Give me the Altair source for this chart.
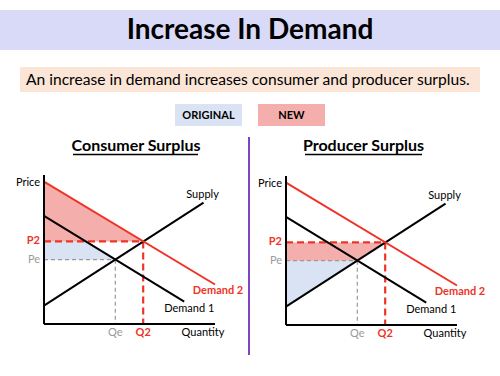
import altair as alt
import pandas as pd

# ---- data (model units) ----
supply_q = [0.0, 9.33]
supply_p = [1.23, 8.15]
d1_q = [0.0, 8.2]
d1_p = [7.25, 1.5]
d2_q = [0.0, 10.0]
d2_p = [9.55, 2.65]
qe, pe = 4.17, 4.32
q2, p2 = 5.8, 5.54
axis_max_q, axis_max_p = 10.0, 10.0

FONT = "Lato"
RED = "#ee3426"
RED_FILL = "#f4afac"
BLUE_FILL = "#dae3f3"
GRAY = "#9a9a9a"

# quantity where D1 crosses P2
q_d1_at_p2 = (d1_p[0] - p2) / (d1_p[0] - d1_p[1]) * (d1_q[1] - d1_q[0])

one = alt.Data(values=[{"a": 1}])

# ---- header ----
hb = alt.Chart(one)
header = alt.layer(
    hb.mark_rect(color="#d9d9f8").encode(x=alt.value(0), x2=alt.value(500), y=alt.value(10), y2=alt.value(50)),
    hb.mark_text(text="Increase In Demand", font=FONT, fontSize=28, fontWeight="bold",
                 align="center", baseline="middle", color="black").encode(x=alt.value(250), y=alt.value(31)),
    hb.mark_rect(color="#fbe5d6").encode(x=alt.value(20), x2=alt.value(480), y=alt.value(67), y2=alt.value(92)),
    hb.mark_text(text="An increase in demand increases consumer and producer surplus.", font=FONT,
                 fontSize=15.6, align="left", baseline="middle", color="black").encode(x=alt.value(26), y=alt.value(80)),
    hb.mark_rect(color=BLUE_FILL).encode(x=alt.value(175), x2=alt.value(242), y=alt.value(104), y2=alt.value(126)),
    hb.mark_text(text="ORIGINAL", font=FONT, fontSize=11, fontWeight="bold", align="center",
                 baseline="middle", color="black").encode(x=alt.value(208.5), y=alt.value(115.5)),
    hb.mark_rect(color=RED_FILL).encode(x=alt.value(258), x2=alt.value(325), y=alt.value(104), y2=alt.value(126)),
    hb.mark_text(text="NEW", font=FONT, fontSize=11, fontWeight="bold", align="center",
                 baseline="middle", color="black").encode(x=alt.value(291.5), y=alt.value(115.5)),
).properties(width=500, height=136)

PW, PH = 250, 240
UX, UY = 17.1, 14.9


def panel(kind):
    if kind == "cs":
        x0, y0, title, tx, ul = 44, 188, "Consumer Surplus", 136, (73, 198)
    else:
        x0, y0, title, tx, ul = 36, 189, "Producer Surplus", 113.5, (55, 172)
    xs = alt.Scale(domain=[-x0 / UX, (PW - x0) / UX], nice=False, zero=False)
    ys = alt.Scale(domain=[-(PH - y0) / UY, y0 / UY], nice=False, zero=False)
    X = lambda f="x": alt.X(f"{f}:Q", scale=xs, axis=None)
    Y = lambda f="y": alt.Y(f"{f}:Q", scale=ys, axis=None)

    layers = []
    if kind == "cs":
        red_area = pd.DataFrame({"x": [d2_q[0], q2], "y": [d2_p[0], p2], "y2": [p2, p2]})
        blue_area = pd.DataFrame({"x": [0, q_d1_at_p2, qe], "y": [p2, p2, pe], "y2": [pe, pe, pe]})
    else:
        red_area = pd.DataFrame({"x": [0, qe, q2], "y": [p2, p2, p2], "y2": [pe, pe, p2]})
        blue_area = pd.DataFrame({"x": [0, qe], "y": [pe, pe], "y2": [supply_p[0], pe]})
    layers.append(alt.Chart(blue_area).mark_area(color=BLUE_FILL, opacity=1).encode(x=X(), y=Y(), y2="y2:Q"))
    layers.append(alt.Chart(red_area).mark_area(color=RED_FILL, opacity=1).encode(x=X(), y=Y(), y2="y2:Q"))

    # dashed guides
    gray_d = pd.DataFrame({"x": [0, qe], "y": [pe, pe], "x2": [qe, qe], "y2": [pe, 0]})
    red_d = pd.DataFrame({"x": [0, q2], "y": [p2, p2], "x2": [q2, q2], "y2": [p2, 0]})
    layers.append(alt.Chart(gray_d).mark_rule(color=GRAY, strokeWidth=1.2, strokeDash=[4, 3]).encode(
        x=X(), y=Y(), x2="x2:Q", y2="y2:Q"))
    layers.append(alt.Chart(red_d).mark_rule(color=RED, strokeWidth=2.2, strokeDash=[7, 4]).encode(
        x=X(), y=Y(), x2="x2:Q", y2="y2:Q"))

    # curves
    curves = pd.DataFrame({
        "x": [supply_q[0], d1_q[0], d2_q[0]], "y": [supply_p[0], d1_p[0], d2_p[0]],
        "x2": [supply_q[1], d1_q[1], d2_q[1]], "y2": [supply_p[1], d1_p[1], d2_p[1]],
        "c": ["black", "black", RED]})
    layers.append(alt.Chart(curves).mark_rule(strokeWidth=2).encode(
        x=X(), y=Y(), x2="x2:Q", y2="y2:Q", color=alt.Color("c:N", scale=None)))

    # axes
    axes = pd.DataFrame({"x": [0, 0], "y": [0, 0], "x2": [0, axis_max_q], "y2": [axis_max_p, 0]})
    layers.append(alt.Chart(axes).mark_rule(color="black", strokeWidth=2).encode(
        x=X(), y=Y(), x2="x2:Q", y2="y2:Q"))

    def txt(df, **kw):
        return alt.Chart(pd.DataFrame(df)).mark_text(font=FONT, **kw).encode(x=X(), y=Y(), text="t:N")

    layers += [
        txt({"x": [0], "y": [axis_max_p], "t": ["Price"]}, fontSize=11, align="right", baseline="middle",
            dx=-4, dy=8, color="black"),
        txt({"x": [0], "y": [p2], "t": ["P2"]}, fontSize=11, fontWeight="bold", align="right",
            baseline="middle", dx=-4, color=RED),
        txt({"x": [0], "y": [pe], "t": ["Pe"]}, fontSize=11, align="right", baseline="middle", dx=-4, color=GRAY),
        txt({"x": [qe], "y": [0], "t": ["Qe"]}, fontSize=11, align="center", baseline="middle", dy=9, color=GRAY),
        txt({"x": [q2], "y": [0], "t": ["Q2"]}, fontSize=11, fontWeight="bold", align="center",
            baseline="middle", dy=9, color=RED),
        txt({"x": [axis_max_q], "y": [0], "t": ["Quantity"]}, fontSize=11, align="center",
            baseline="middle", dx=-12, dy=9, color="black"),
        txt({"x": [supply_q[1]], "y": [supply_p[1]], "t": ["Supply"]}, fontSize=11, align="center",
            baseline="middle", dx=-1, dy=-8, color="black"),
        txt({"x": [d2_q[1]], "y": [d2_p[1]], "t": ["Demand 2"]}, fontSize=11, fontWeight="bold",
            align="center", baseline="middle", dx=3, dy=6, color=RED),
        txt({"x": [d1_q[1]], "y": [d1_p[1]], "t": ["Demand 1"]}, fontSize=11, align="center",
            baseline="middle", dx=5, dy=7, color="black"),
    ]

    pb = alt.Chart(one)
    layers.append(pb.mark_text(text=title, font=FONT, fontSize=16, fontWeight="bold", align="center",
                               baseline="middle", color="black").encode(x=alt.value(tx), y=alt.value(10)))
    layers.append(pb.mark_rule(color="black", strokeWidth=1.3).encode(
        x=alt.value(ul[0]), x2=alt.value(ul[1]), y=alt.value(18.5)))
    if kind == "cs":
        layers.append(pb.mark_rule(color="#7f45c0", strokeWidth=2).encode(
            x=alt.value(249), y=alt.value(1), y2=alt.value(219)))
    return alt.layer(*layers).properties(width=PW, height=PH)


row = alt.hconcat(panel("cs"), panel("ps"), spacing=0, bounds="flush")
chart = alt.vconcat(header, row, spacing=0, bounds="flush", padding=0).configure_view(stroke=None)

chart.save("out.html", embed_options={"renderer": "svg", "actions": False})
